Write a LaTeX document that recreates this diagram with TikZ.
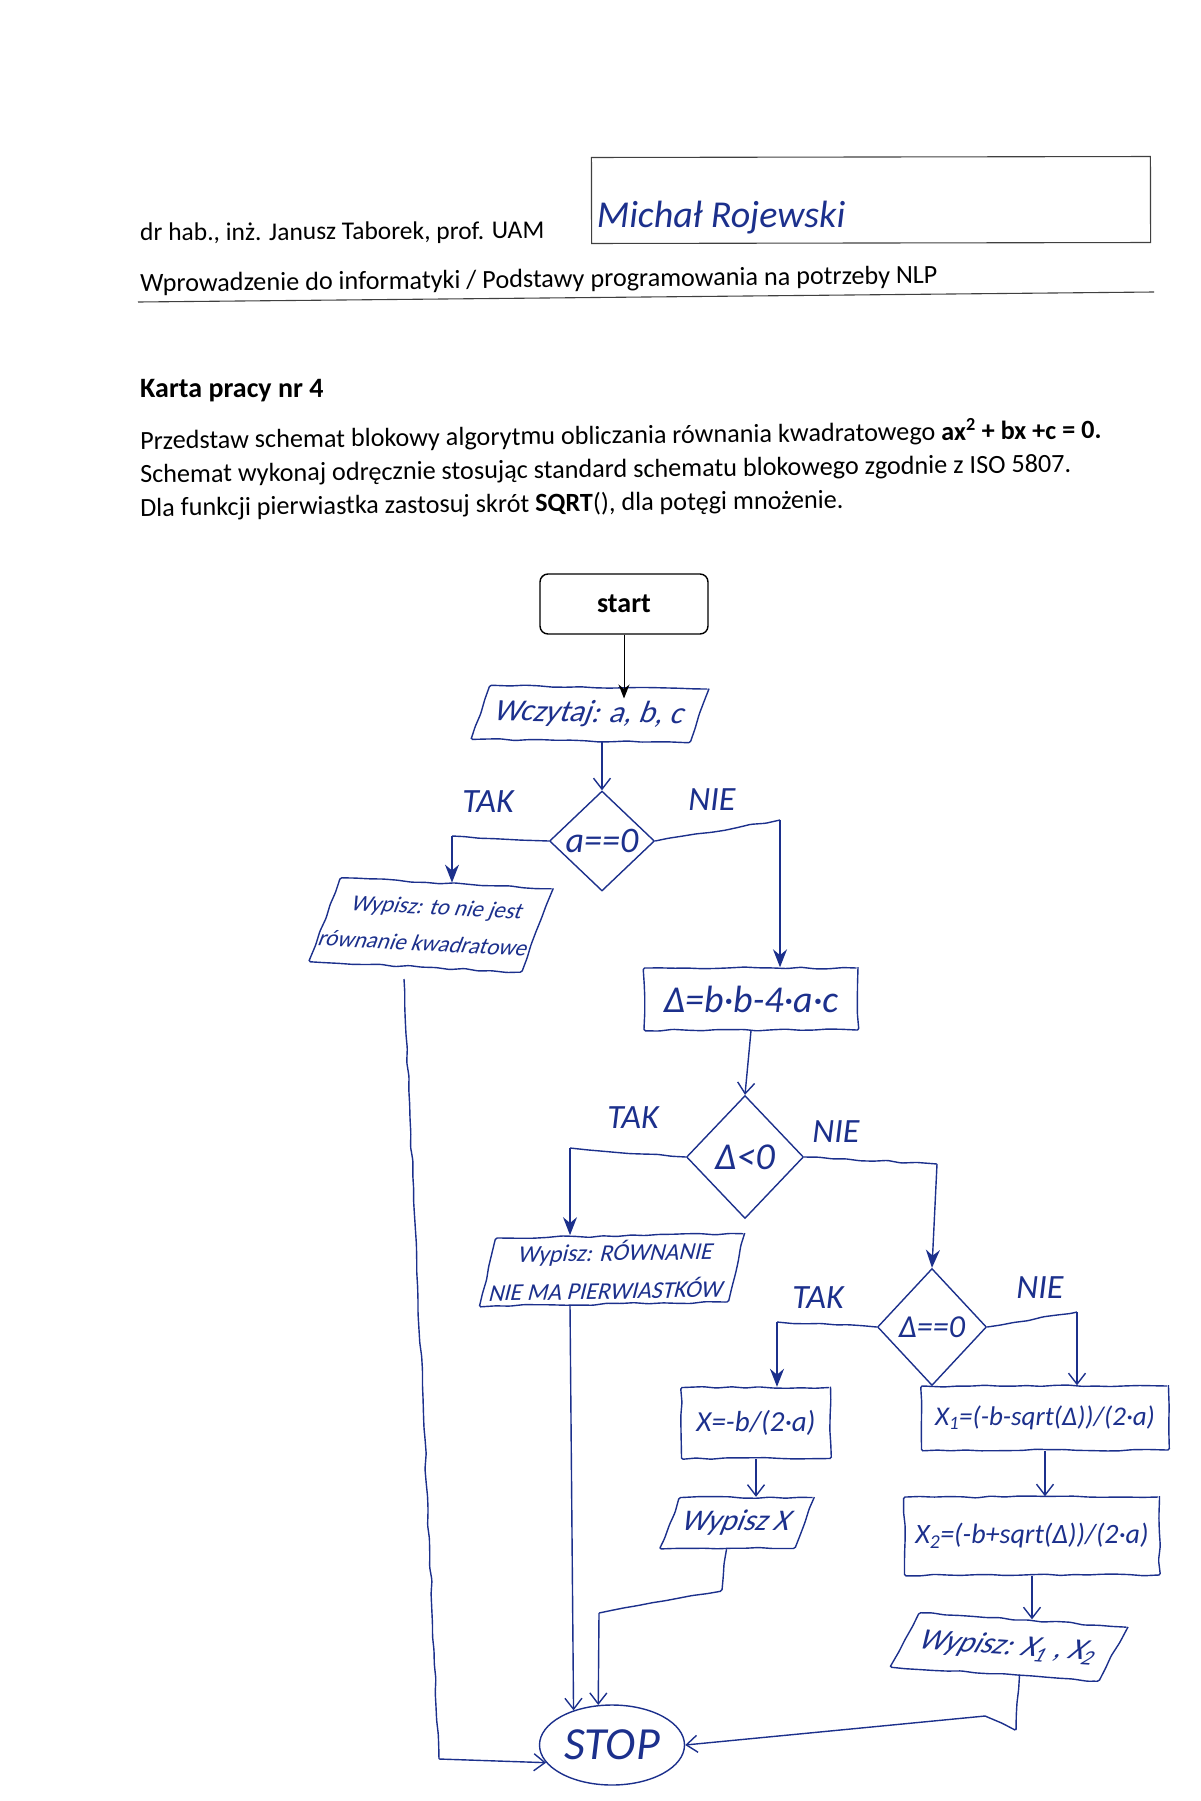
\documentclass[tikz,border=0pt]{standalone}
\usepackage{fontspec}
\setmainfont{Carlito}
\usetikzlibrary{arrows.meta,shapes.geometric,decorations.pathmorphing}
\definecolor{ink}{RGB}{28,48,140}
\newcommand{\printfont}{\fontsize{26.2}{30}\selectfont}
\newcommand{\handfont}[1]{\fontsize{#1}{#1}\selectfont\itshape\color{ink}}
\newcommand{\slantfont}[1]{\fontsize{#1}{#1}\selectfont\upshape\color{ink}}
\begin{document}
\begin{tikzpicture}[
  x=1pt,y=-1pt,
  printed/.style={anchor=west,inner sep=0pt,font=\printfont,text=black},
  wobble/.style={decorate,decoration={random steps,segment length=14pt,amplitude=1pt},rounded corners=1.5pt},
  flowline/.style={draw=ink,line width=1.4pt,wobble},
  barb/.style={draw=ink,line width=1.4pt,-{Straight Barb[length=11pt,width=17pt]}},
  blob/.style={draw=ink,line width=1.4pt,-{Stealth[length=18pt,width=14pt]}},
  calcblock/.style={rectangle,draw=ink,line width=1.4pt,wobble,inner sep=0pt},
  ioblock/.style={rectangle,draw=ink,line width=1.4pt,wobble,inner sep=0pt,align=center},
  decision/.style={diamond,draw=ink,line width=1.4pt,inner sep=0pt,aspect=1},
  tag/.style={inner sep=0pt,font=\handfont{34}}]
  \pgfmathsetseed{11}
  \useasboundingbox (0,0) rectangle (1200,1801);
  % header
  \node[printed,rotate=.3,font=\fontsize{25.5}{30}\selectfont] (teacher) at (140,234) {dr hab., inż. Janusz Taborek, prof. UAM};
  \node[draw=black!75,line width=1.1pt,minimum width=559pt,minimum height=86pt,rotate=.1,inner sep=0pt] (namebox) at (871,200) {};
  \node[inner sep=0pt,font=\handfont{38}] (signature) at (721,218) {Michał Rojewski};
  \node[printed,rotate=.6] (course) at (140,285) {Wprowadzenie do informatyki / Podstawy programowania na potrzeby NLP};
  \coordinate (ruleL) at (138,302);
  \coordinate (ruleR) at (1154,292);
  \draw[black!75,line width=1.1pt] (ruleL)--(ruleR);
  % task
  \node[printed,rotate=.2,font=\fontsize{28}{30}\selectfont] (sheet) at (140,391) {\textbf{Karta pracy nr 4}};
  \node[printed,rotate=.65] (taskA) at (140,441) {Przedstaw schemat blokowy algorytmu obliczania równania kwadratowego \textbf{ax\textsuperscript{2} + bx +c = 0.}};
  \node[printed,rotate=.65] (taskB) at (140,476) {Schemat wykonaj odręcznie stosując standard schematu blokowego zgodnie z ISO 5807.};
  \node[printed,rotate=.65] (taskC) at (140,509) {Dla funkcji pierwiastka zastosuj skrót \textbf{SQRT}(), dla potęgi mnożenie.};
  % blocks
  \node[rectangle,rounded corners=8pt,draw=black,line width=1.4pt,minimum width=168pt,minimum height=60pt,font=\fontsize{28}{28}\selectfont\bfseries] (start) at (624,604) {start};
  \node[ioblock,minimum width=218pt,minimum height=54pt,rotate=-1,xslant=.35,font=\slantfont{31}] (read) at (590,714) {Wczytaj: a, b, c};
  \node[decision,minimum width=105pt,minimum height=100pt,font=\handfont{36}] (aZero) at (602,841) {a==0};
  \node[ioblock,minimum width=212pt,minimum height=85pt,rotate=-3,xslant=.33,font=\slantfont{23}] (notQuad) at (431,925) {Wypisz: to nie jest\\[14pt]równanie kwadratowe};
  \node[calcblock,minimum width=214pt,minimum height=62pt,font=\handfont{38}] (delta) at (751,999) {Δ=b·b-4·a·c};
  \node[decision,minimum width=117pt,minimum height=123pt,font=\handfont{38}] (dNeg) at (745,1157) {Δ<0};
  \node[ioblock,minimum width=248pt,minimum height=68pt,rotate=1,xslant=.27,font=\slantfont{24}] (noRoots) at (612,1270) {Wypisz: RÓWNANIE\\[14pt]NIE MA PIERWIASTKÓW};
  \node[decision,minimum width=109pt,minimum height=117pt,font=\handfont{32}] (dZero) at (932,1327) {Δ==0};
  \node[calcblock,minimum width=149pt,minimum height=71pt,font=\handfont{29}] (oneRoot) at (756,1423) {X=-b/(2·a)};
  \node[calcblock,minimum width=247pt,minimum height=64pt,font=\handfont{27}] (rootA) at (1045,1418) {X\textsubscript{1}=(-b-sqrt(Δ))/(2·a)};
  \node[ioblock,minimum width=134pt,minimum height=51pt,xslant=.4,font=\slantfont{30}] (showOne) at (737,1523) {Wypisz X};
  \node[calcblock,minimum width=255pt,minimum height=78pt,font=\handfont{28}] (rootB) at (1032,1536) {X\textsubscript{2}=(-b+sqrt(Δ))/(2·a)};
  \node[ioblock,minimum width=208pt,minimum height=56pt,rotate=-4,xslant=.47,font=\slantfont{30}] (showTwo) at (1009,1647) {Wypisz: X\textsubscript{1} , X\textsubscript{2}};
  \node[ellipse,draw=ink,line width=1.4pt,minimum width=145pt,minimum height=80pt,inner sep=0pt,font=\handfont{46}] (stop) at (612,1745) {STOP};
  % elbows
  \coordinate (aYes) at (452,836);
  \coordinate (aNo) at (780,820);
  \coordinate (nYes) at (570,1148);
  \coordinate (nNo) at (937,1164);
  \coordinate (zYes) at (777,1322);
  \coordinate (zNo) at (1077,1312);
  \coordinate (leftDown) at (439,1759);
  \coordinate (notQuadOut) at (404,979);
  \coordinate (oneA) at (722,1590);
  \coordinate (oneB) at (599,1613);
  \coordinate (twoA) at (1016,1730);
  \coordinate (twoB) at (985,1716);
  % connectors
  \draw[black,line width=1pt,-{Stealth[length=14pt,width=11pt]},shorten >=-12pt] (start.south)--(start.south|-read.north);
  \draw[barb] (aZero.north|-read.south)--(aZero.north);
  \draw[flowline] (aZero.west)--(aYes);
  \draw[blob] (aYes)--(aYes|-notQuad.north);
  \draw[flowline] (aZero.east)--(aNo);
  \draw[blob] (aNo)--(aNo|-delta.north);
  \draw[barb] (delta.south)--(dNeg.north);
  \draw[flowline] (dNeg.west)--(nYes);
  \draw[blob] (nYes)--(nYes|-noRoots.north);
  \draw[flowline] (dNeg.east)--(nNo);
  \draw[blob] (nNo)--(dZero.north);
  \draw[flowline] (dZero.west)--(zYes);
  \draw[blob] (zYes)--(zYes|-oneRoot.north);
  \draw[flowline] (dZero.east)--(zNo);
  \draw[barb] (zNo)--(zNo|-rootA.north);
  \draw[barb] (oneRoot.south)--(oneRoot.south|-showOne.north);
  \draw[barb] (rootA.south)--(rootA.south|-rootB.north);
  \draw[barb] (rootB.south)--(rootB.south|-showTwo.north);
  \draw[flowline] (showOne.south)--(oneA)--(oneB);
  \draw[barb] (oneB)--(stop.109);
  \draw[barb] (nYes|-noRoots.south)--(stop.138);
  \draw[flowline] (notQuadOut)--(leftDown);
  \draw[barb] (leftDown)--(stop.195);
  \draw[flowline] ([xshift=26pt]showTwo.south)--(twoA)--(twoB);
  \draw[barb] (twoB)--(stop.east);
  % branch labels
  \node[tag] (aYesTag) at (488,802) {TAK};
  \node[tag] (aNoTag) at (712,800) {NIE};
  \node[tag] (nYesTag) at (633,1118) {TAK};
  \node[tag] (nNoTag) at (836,1132) {NIE};
  \node[tag] (zYesTag) at (818,1298) {TAK};
  \node[tag] (zNoTag) at (1040,1288) {NIE};
\end{tikzpicture}
\end{document}
